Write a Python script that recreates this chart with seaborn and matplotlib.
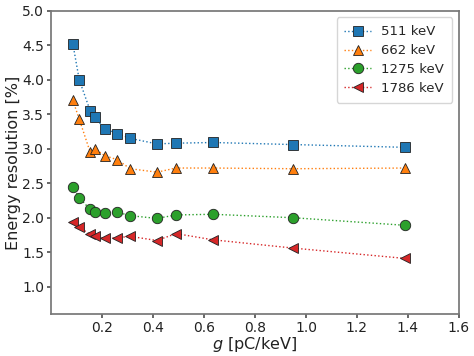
import pandas as pd
import matplotlib
matplotlib.use("Agg")
import matplotlib.pyplot as plt
import seaborn as sns

# ======================================
#           DATA
# ======================================
g_values = [0.085, 0.11, 0.153, 0.17, 0.21, 0.26, 0.31, 0.415, 0.49, 0.635, 0.95, 1.39]
res_511 = [4.52, 4.00, 3.55, 3.46, 3.29, 3.22, 3.15, 3.07, 3.08, 3.09, 3.06, 3.02]
res_662 = [3.70, 3.43, 2.95, 3.00, 2.90, 2.84, 2.71, 2.66, 2.72, 2.72, 2.71, 2.72]
res_1275 = [2.45, 2.29, 2.12, 2.09, 2.07, 2.08, 2.03, 1.99, 2.04, 2.05, 2.00, 1.89]
res_1786 = [1.94, 1.86, 1.76, 1.74, 1.70, 1.71, 1.73, 1.67, 1.77, 1.68, 1.56, 1.41]
labels = ["511 keV", "662 keV", "1275 keV", "1786 keV"]

df = pd.DataFrame({
    "g": g_values * 4,
    "res": res_511 + res_662 + res_1275 + res_1786,
    "line": [lab for lab in labels for _ in g_values],
})

# ======================================
#           PLOT
# ======================================
sns.set_theme(style="ticks")
plt.rcParams["font.family"] = ["DejaVu Sans"]

fig = plt.figure(figsize=(4.74, 3.56), dpi=100)
ax = fig.add_axes([0.108, 0.117, 0.860, 0.853])

colors = ["#1f77b4", "#ff7f0e", "#2ca02c", "#d62728"]
markers = ["s", "^", "o", "<"]
for lab, col, mk in zip(labels, colors, markers):
    sub = df[df["line"] == lab]
    sns.lineplot(data=sub, x="g", y="res", ax=ax, color=col, marker=mk,
                 linestyle=":", linewidth=1.0, markersize=7.5,
                 markeredgecolor="#222222", markeredgewidth=0.6,
                 estimator=None, sort=False, label=lab)

ax.set_xlim(0, 1.6)
ax.set_ylim(0.6, 5.0)
ax.set_xticks([0.2, 0.4, 0.6, 0.8, 1.0, 1.2, 1.4, 1.6])
ax.set_yticks([1.0, 1.5, 2.0, 2.5, 3.0, 3.5, 4.0, 4.5, 5.0])
ax.tick_params(labelsize=10, length=3, pad=2, color="#555555", labelcolor="#222222")
for sp in ax.spines.values():
    sp.set_color("#777777")
ax.set_xlabel("$g$ [pC/keV]", fontsize=11.5, labelpad=0, color="#222222")
ax.set_ylabel("Energy resolution [%]", fontsize=11.5, labelpad=1, color="#222222")
ax.legend(loc="upper right", fontsize=9.5, frameon=True, borderpad=0.6,
          handlelength=2.0, labelspacing=0.45)

fig.savefig("out.png", dpi=100)
